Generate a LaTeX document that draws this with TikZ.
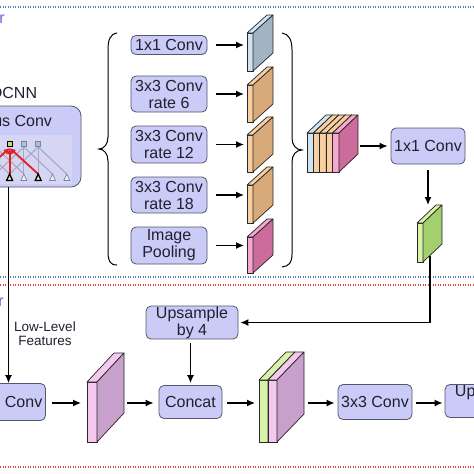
\documentclass[tikz,border=0pt]{standalone}
\usepackage{fontspec}
\setmainfont{Liberation Sans}
\usetikzlibrary{arrows.meta,calc}
\definecolor{boxfill}{HTML}{CBCBF8}
\definecolor{boxline}{HTML}{55556C}
\definecolor{txt}{HTML}{202030}
\definecolor{dotb}{HTML}{5B82B5}
\definecolor{dotr}{HTML}{E04848}
\definecolor{bluef}{HTML}{CFE6F2}
\definecolor{blues}{HTML}{A2B3C3}
\definecolor{orf}{HTML}{F7CFA0}
\definecolor{ors}{HTML}{D8AA7A}
\definecolor{pkf}{HTML}{F4A8D0}
\definecolor{pks}{HTML}{CC6C9C}
\definecolor{grf}{HTML}{D8F2A8}
\definecolor{grs}{HTML}{A4CF6E}
\definecolor{lilf}{HTML}{F5C8F0}
\definecolor{lils}{HTML}{C8A0CC}
\definecolor{illbg}{HTML}{D6D6F4}
\definecolor{illgray}{HTML}{A8A8BC}
\definecolor{illred}{HTML}{E02020}
\definecolor{sqgreen}{HTML}{C8D870}
\definecolor{sqblue}{HTML}{A6C2E2}
\definecolor{labcol}{HTML}{6A66DA}
\newcommand\slabfaces[5]{%
  \filldraw[slabedge, fill=#5] (#1.north west) -- ([shift={(#2,#3)}]#1.north west) -- ([shift={(#2,#3)}]#1.north east) -- (#1.north east) -- cycle;
  \filldraw[slabedge, fill=#4] (#1.north east) -- ([shift={(#2,#3)}]#1.north east) -- ([shift={(#2,#3)}]#1.south east) -- (#1.south east) -- cycle;
}
\begin{document}
\begin{tikzpicture}[x=1pt,y=-1pt,
  box/.style={draw=boxline, fill=boxfill, rounded corners=5pt, line width=0.8pt, inner sep=0pt, align=center, font=\fontsize{16}{17}\selectfont, text=txt},
  slabedge/.style={draw=black!85, line width=0.7pt, line join=round},
  slabnode/.style={slabedge, inner sep=0pt, outer sep=0pt},
  arr/.style={-{Latex[length=8pt,width=7pt]}, line width=1.3pt, black},
  dotblue/.style={dotb, line width=2.2pt, dash pattern=on 1.3pt off 1.2pt},
  dotred/.style={dotr, line width=2.2pt, dash pattern=on 1.3pt off 1.2pt},
  bracestyle/.style={line width=1pt, black}
]
\useasboundingbox (0,0) rectangle (474,474);
\clip (0,0) rectangle (474,474);

% dotted boundaries
\draw[dotblue] (0,7) -- (474,7);
\draw[dotblue] (0,277) -- (474,277);
\draw[dotred] (0,285) -- (474,285);
\draw[dotred] (0,467) -- (474,467);

% side labels (cut by the frame)
\node[anchor=base east, font=\fontsize{16}{17}\selectfont, text=labcol, inner sep=0pt] (enc) at (5,23) {Encoder};
\node[anchor=base east, font=\fontsize{16}{17}\selectfont, text=labcol, inner sep=0pt] (dec) at (4,306) {Decoder};

% DCNN
\node[font=\fontsize{16}{17}\selectfont, text=txt, inner sep=0pt] (dcnnlab) at (14,93) {DCNN};
\node[box, rounded corners=10pt, minimum width=146pt, minimum height=81pt] (dcnn) at (8,146.5) {};
\node[font=\fontsize{16}{17}\selectfont, text=txt, inner sep=0pt] (atr) at (8,121) {Atrous Conv};
\fill[illbg] (-60,135) rectangle (72,184);
\foreach \s in {-19,-4.7,23.9,38.2}{
  \foreach \d in {-28.6,0,28.6}{
    \draw[illgray, line width=1.1pt] (\s,147) -- (\s+\d,174);
  }
}
\foreach \d in {-28.6,0,28.6}{
  \draw[illred, line width=1.8pt, -{Latex[length=6pt,width=6pt]}] (9.6+\d,174) -- (9.6,148);
}
\foreach \s in {-4.7,23.9,38.2}{
  \filldraw[fill=sqblue, draw=sqblue!70!black, line width=0.6pt] (\s-2.5,141.5) rectangle (\s+2.5,146.5);
}
\filldraw[fill=sqgreen, draw=black, line width=1pt] (7.1,141.5) rectangle (12.1,146.5);
\foreach \t in {-4.7,23.9,52.5,66.8}{
  \filldraw[fill=white!80!sqblue, draw=sqblue!70!black, line width=0.7pt] (\t-3,180.5) -- (\t+3,180.5) -- (\t,174) -- cycle;
}
\foreach \t in {-19,9.6,38.2}{
  \filldraw[fill=sqgreen!60!white, draw=black, line width=1.3pt] (\t-3,180.5) -- (\t+3,180.5) -- (\t,174) -- cycle;
}

% ASPP branches
\node[box, minimum width=76pt, minimum height=19pt] (b1) at (169,45) {1x1 Conv};
\node[box, minimum width=76pt, minimum height=36pt] (b2) at (169,94) {3x3 Conv\\rate 6};
\node[box, minimum width=76pt, minimum height=37pt] (b3) at (169,144.5) {3x3 Conv\\rate 12};
\node[box, minimum width=76pt, minimum height=36pt] (b4) at (169,195) {3x3 Conv\\rate 18};
\node[box, minimum width=76pt, minimum height=37pt] (b5) at (169,245.5) {Image\\Pooling};

% braces
\draw[bracestyle] (117,33) .. controls (110,34) and (108,40) .. (108,50) -- (108,137)
  .. controls (108,144) and (104,149) .. (99,149) .. controls (104,149) and (108,154) .. (108,161)
  -- (108,252) .. controls (108,261) and (110,265) .. (117,265);
\draw[bracestyle] (282,33) .. controls (289,34) and (292,40) .. (292,50) -- (292,138)
  .. controls (292,145) and (296,150) .. (302,150) .. controls (296,150) and (292,155) .. (292,162)
  -- (292,254) .. controls (292,263) and (289,266) .. (282,267);

% branch feature maps
\node[slabnode, fill=bluef, minimum width=6pt, minimum height=38pt] (s1) at (250,52) {};
\slabfaces{s1}{20}{-18}{blues}{bluef}
\node[slabnode, fill=orf, minimum width=6pt, minimum height=37pt] (s2) at (250,103.5) {};
\slabfaces{s2}{20}{-18}{ors}{orf}
\node[slabnode, fill=orf, minimum width=6pt, minimum height=37pt] (s3) at (250,153.5) {};
\slabfaces{s3}{20}{-18}{ors}{orf}
\node[slabnode, fill=orf, minimum width=6pt, minimum height=38pt] (s4) at (250,204) {};
\slabfaces{s4}{20}{-18}{ors}{orf}
\node[slabnode, fill=pkf, minimum width=6pt, minimum height=36pt] (s5) at (250,255) {};
\slabfaces{s5}{20}{-18}{pks}{pkf}

\foreach \i in {1,...,5}{
  \draw[arr, shorten <=9pt, shorten >=3pt] (b\i.east) -- (b\i.east -| s\i.west);
}

% stacked (concatenated) maps
\node[slabnode, fill=bluef, minimum width=6.4pt, minimum height=39pt] (k1) at (310.2,152.5) {};
\slabfaces{k1}{19}{-18}{blues}{bluef}
\node[slabnode, fill=orf, minimum width=6.4pt, minimum height=39pt] (k2) at (316.6,152.5) {};
\slabfaces{k2}{19}{-18}{ors}{orf}
\node[slabnode, fill=orf, minimum width=6.4pt, minimum height=39pt] (k3) at (323,152.5) {};
\slabfaces{k3}{19}{-18}{ors}{orf}
\node[slabnode, fill=orf, minimum width=6.4pt, minimum height=39pt] (k4) at (329.4,152.5) {};
\slabfaces{k4}{19}{-18}{ors}{orf}
\node[slabnode, fill=pkf, minimum width=6.4pt, minimum height=39pt] (k5) at (335.8,152.5) {};
\slabfaces{k5}{19}{-18}{pks}{pkf}

\node[box, minimum width=74pt, minimum height=36pt] (c1r) at (428,146) {1x1 Conv};
\draw[arr, shorten <=21pt, shorten >=3pt] (k5.east |- c1r.west) -- (c1r.west);

% encoder output
\node[slabnode, fill=grf, minimum width=6pt, minimum height=39pt] (g) at (420,242.5) {};
\slabfaces{g}{19}{-18}{grs}{grf}
\coordinate (gtop) at ([shift={(9,-18)}]g.north);
\draw[arr, shorten <=6pt] (c1r.south) -- (c1r.south |- gtop);
\coordinate (gout) at ([shift={(7,-6)}]g.south east);

% decoder
\node[box, minimum width=92pt, minimum height=33pt] (up1) at (192,322.5) {Upsample\\by 4};
\draw[arr, shorten >=2pt] (gout) |- (up1.east);

\node[box, minimum width=74pt, minimum height=37pt] (c1b) at (8.5,402) {1x1 Conv};
\draw[arr] (dcnn.south -| c1b.north) -- (c1b.north);
\node[text=txt, align=center, font=\fontsize{13.5}{14}\selectfont, inner sep=0pt] (llf) at (45,334) {Low-Level\\Features};

\node[slabnode, fill=lilf, minimum width=10pt, minimum height=60pt] (d) at (92,412) {};
\slabfaces{d}{27}{-29}{lils}{lilf}
\draw[arr, shorten <=6pt, shorten >=6pt] (c1b.east |- 0,403) -- (d.west |- 0,403);

\node[box, minimum width=63pt, minimum height=33pt] (cat) at (190.5,402) {Concat};
\draw[arr, shorten <=30pt, shorten >=5pt] (d.east |- 0,403) -- (cat.west |- 0,403);
\draw[arr, shorten <=4pt, shorten >=2pt] (up1.south -| cat.north) -- (cat.north);

\node[slabnode, fill=grf, minimum width=9pt, minimum height=62pt] (cg) at (263.5,411) {};
\slabfaces{cg}{27}{-28}{lils}{grf}
\node[slabnode, fill=lilf, minimum width=9pt, minimum height=62pt] (cp) at (272.5,411) {};
\slabfaces{cp}{27}{-28}{lils}{lilf}
\draw[arr, shorten <=5pt, shorten >=4pt] (cat.east |- 0,403) -- (cg.west |- 0,403);

\node[box, minimum width=74pt, minimum height=35pt] (c3) at (375,402) {3x3 Conv};
\draw[arr, shorten <=31pt, shorten >=3pt] (cp.east |- 0,403) -- (c3.west |- 0,403);

\node[box, minimum width=92pt, minimum height=33pt] (up2) at (491,401) {Upsample\\by 4};
\draw[arr, shorten <=4pt, shorten >=2pt] (c3.east |- 0,403) -- (up2.west |- 0,403);
\end{tikzpicture}
\end{document}
